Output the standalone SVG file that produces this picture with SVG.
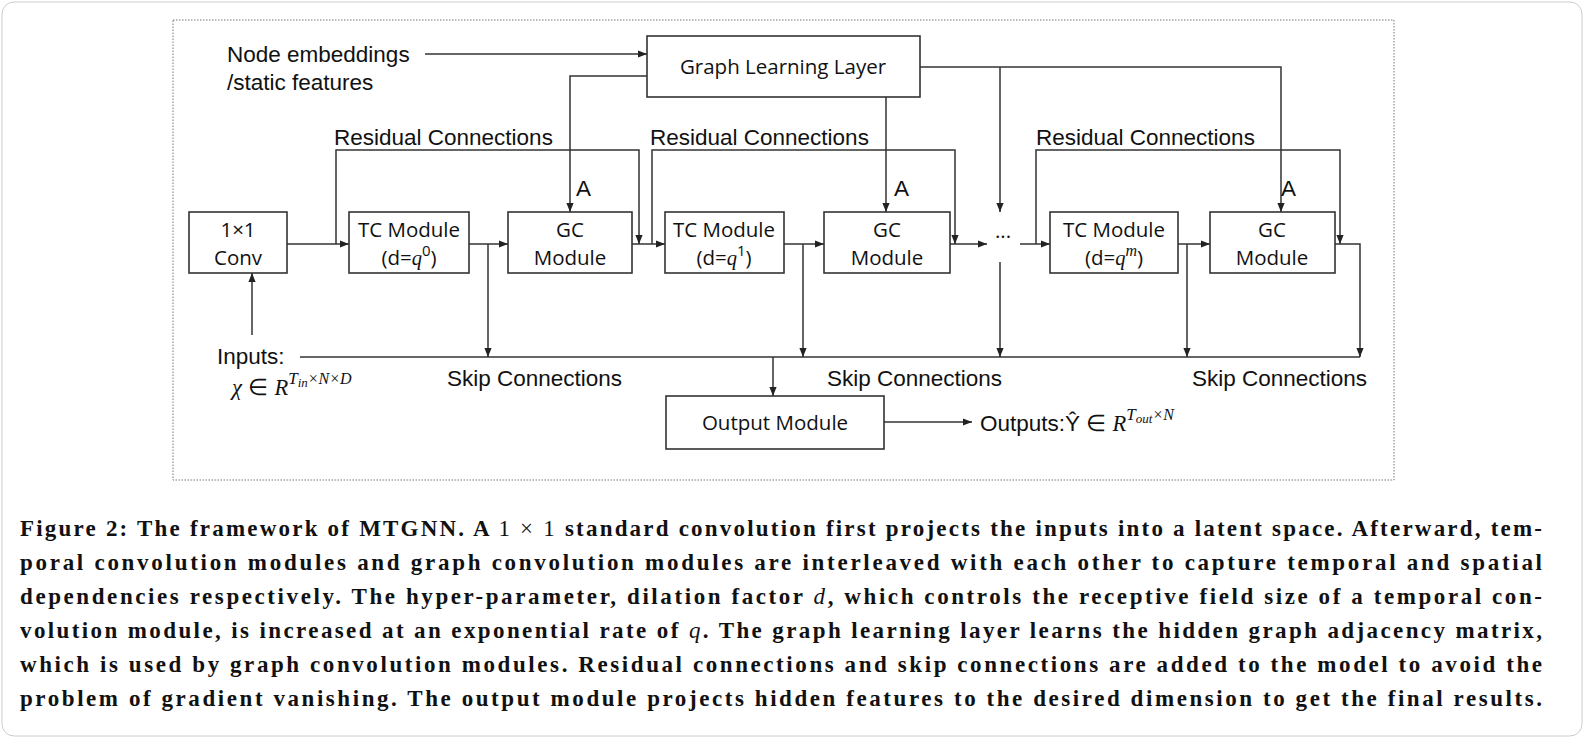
<svg xmlns="http://www.w3.org/2000/svg" width="1584" height="738" viewBox="0 0 1584 738">
<defs>
<marker id="ah" viewBox="0 0 10 10" refX="10" refY="5" markerWidth="9" markerHeight="9" markerUnits="userSpaceOnUse" orient="auto"><path d="M0,1 L10,5 L0,9 z" fill="#222"/></marker>
</defs>
<style>
.box{fill:#fff;stroke:#333;stroke-width:1.6}
.bt{font-family:"Open Sans","Noto Sans",sans-serif;font-size:20.5px;fill:#111;text-anchor:middle}
.lb{font-family:"Liberation Sans",Arial,sans-serif;font-size:22.5px;fill:#111}
.c{fill:none;stroke:#333;stroke-width:1.5}
.a{marker-end:url(#ah)}
.m{font-family:"Liberation Serif",serif;font-style:italic}
.cap{font-family:"Liberation Serif","Times New Roman",serif;font-size:23px;font-weight:bold;fill:#111}
</style>
<rect x="2" y="2" width="1580" height="734" rx="12" fill="#fff" stroke="#ccc"/>
<rect x="173" y="20" width="1221" height="460" fill="none" stroke="#777" stroke-dasharray="1.5,1.5"/>
<g id="connectors">
<path class="c a" d="M425,54 H647"/>
<path class="c a" d="M647,76 H570 V212"/>
<path class="c a" d="M886,97 V212"/>
<path class="c a" d="M920,67 H1281 V212"/>
<path class="c a" d="M1000,67 V212"/>
<path class="c a" d="M287,244 H349"/>
<path class="c a" d="M469,244 H508"/>
<path class="c a" d="M632,244 H665"/>
<path class="c a" d="M784,244 H824"/>
<path class="c a" d="M950,244 H987"/>
<path class="c a" d="M1020,244 H1050"/>
<path class="c a" d="M1178,244 H1210"/>
<path class="c a" d="M336,244 V150 H639 V244"/>
<path class="c a" d="M652,244 V150 H955 V244"/>
<path class="c a" d="M1036,244 V150 H1340 V244"/>
<path class="c a" d="M252,335 V273"/>
<path class="c" d="M300,357 H1360"/>
<path class="c a" d="M488,244 V357"/>
<path class="c a" d="M803,244 V357"/>
<path class="c a" d="M1000,262 V357"/>
<path class="c a" d="M1187,244 V357"/>
<path class="c a" d="M1335,244 H1360 V357"/>
<path class="c a" d="M773,357 V396"/>
<path class="c a" d="M884,422 H972"/>
</g>
<g id="conv"><rect class="box" x="189" y="212" width="98" height="61"/><text class="bt" x="238" y="237">1×1</text><text class="bt" x="238" y="265">Conv</text></g>
<g id="tc0"><rect class="box" x="349" y="212" width="120" height="61"/><text class="bt" x="409" y="237">TC Module</text><text class="bt" x="409" y="265">(d=<tspan class="m">q</tspan><tspan font-size="15" dy="-9">0</tspan><tspan dy="9">)</tspan></text></g>
<g id="gc0"><rect class="box" x="508" y="212" width="124" height="61"/><text class="bt" x="570" y="237">GC</text><text class="bt" x="570" y="265">Module</text></g>
<g id="tc1"><rect class="box" x="665" y="212" width="119" height="61"/><text class="bt" x="724" y="237">TC Module</text><text class="bt" x="724" y="265">(d=<tspan class="m">q</tspan><tspan font-size="15" dy="-9">1</tspan><tspan dy="9">)</tspan></text></g>
<g id="gc1"><rect class="box" x="824" y="212" width="126" height="61"/><text class="bt" x="887" y="237">GC</text><text class="bt" x="887" y="265">Module</text></g>
<g id="dots"><text class="bt" x="1003" y="244">···</text></g>
<g id="tcm"><rect class="box" x="1050" y="212" width="128" height="61"/><text class="bt" x="1114" y="237">TC Module</text><text class="bt" x="1114" y="265">(d=<tspan class="m">q</tspan><tspan class="m" font-size="16" dy="-9">m</tspan><tspan dy="9">)</tspan></text></g>
<g id="gcm"><rect class="box" x="1210" y="212" width="125" height="61"/><text class="bt" x="1272" y="237">GC</text><text class="bt" x="1272" y="265">Module</text></g>
<g id="gll"><rect class="box" x="647" y="36" width="273" height="61"/><text class="bt" x="783" y="74">Graph Learning Layer</text></g>
<g id="out"><rect class="box" x="666" y="396" width="218" height="53"/><text class="bt" x="775" y="430">Output Module</text></g>
<g id="labels">
<text class="lb" x="227" y="62">Node embeddings</text>
<text class="lb" x="227" y="90">/static features</text>
<text class="lb" x="334" y="145">Residual Connections</text>
<text class="lb" x="650" y="145">Residual Connections</text>
<text class="lb" x="1036" y="145">Residual Connections</text>
<text class="lb" x="576" y="196">A</text>
<text class="lb" x="894" y="196">A</text>
<text class="lb" x="1281" y="196">A</text>
<text class="lb" x="217" y="364">Inputs:</text>
<text class="lb" x="232" y="395"><tspan class="m">χ</tspan> ∈ <tspan class="m">R</tspan><tspan class="m" font-size="17" dy="-11">T</tspan><tspan class="m" font-size="13" dy="3">in</tspan><tspan class="m" font-size="16" dy="-3">×N×D</tspan></text>
<text class="lb" x="447" y="386">Skip Connections</text>
<text class="lb" x="827" y="386">Skip Connections</text>
<text class="lb" x="1192" y="386">Skip Connections</text>
<text class="lb" x="980" y="431">Outputs:Ŷ ∈ <tspan class="m">R</tspan><tspan class="m" font-size="17" dy="-11">T</tspan><tspan class="m" font-size="13" dy="3">out</tspan><tspan class="m" font-size="16" dy="-3">×N</tspan></text>
</g>
<g id="caption" class="cap">
<text x="20" y="536" textLength="1522" lengthAdjust="spacing">Figure 2: The framework of MTGNN. A <tspan font-weight="normal">1 × 1</tspan> standard convolution first projects the inputs into a latent space. Afterward, tem-</text>
<text x="20" y="570" textLength="1522" lengthAdjust="spacing">poral convolution modules and graph convolution modules are interleaved with each other to capture temporal and spatial</text>
<text x="20" y="604" textLength="1522" lengthAdjust="spacing">dependencies respectively. The hyper-parameter, dilation factor <tspan font-weight="normal" font-style="italic">d</tspan>, which controls the receptive field size of a temporal con-</text>
<text x="20" y="638" textLength="1522" lengthAdjust="spacing">volution module, is increased at an exponential rate of <tspan font-weight="normal" font-style="italic">q</tspan>. The graph learning layer learns the hidden graph adjacency matrix,</text>
<text x="20" y="672" textLength="1522" lengthAdjust="spacing">which is used by graph convolution modules. Residual connections and skip connections are added to the model to avoid the</text>
<text x="20" y="706" textLength="1522" lengthAdjust="spacing">problem of gradient vanishing. The output module projects hidden features to the desired dimension to get the final results.</text>
</g>
</svg>
